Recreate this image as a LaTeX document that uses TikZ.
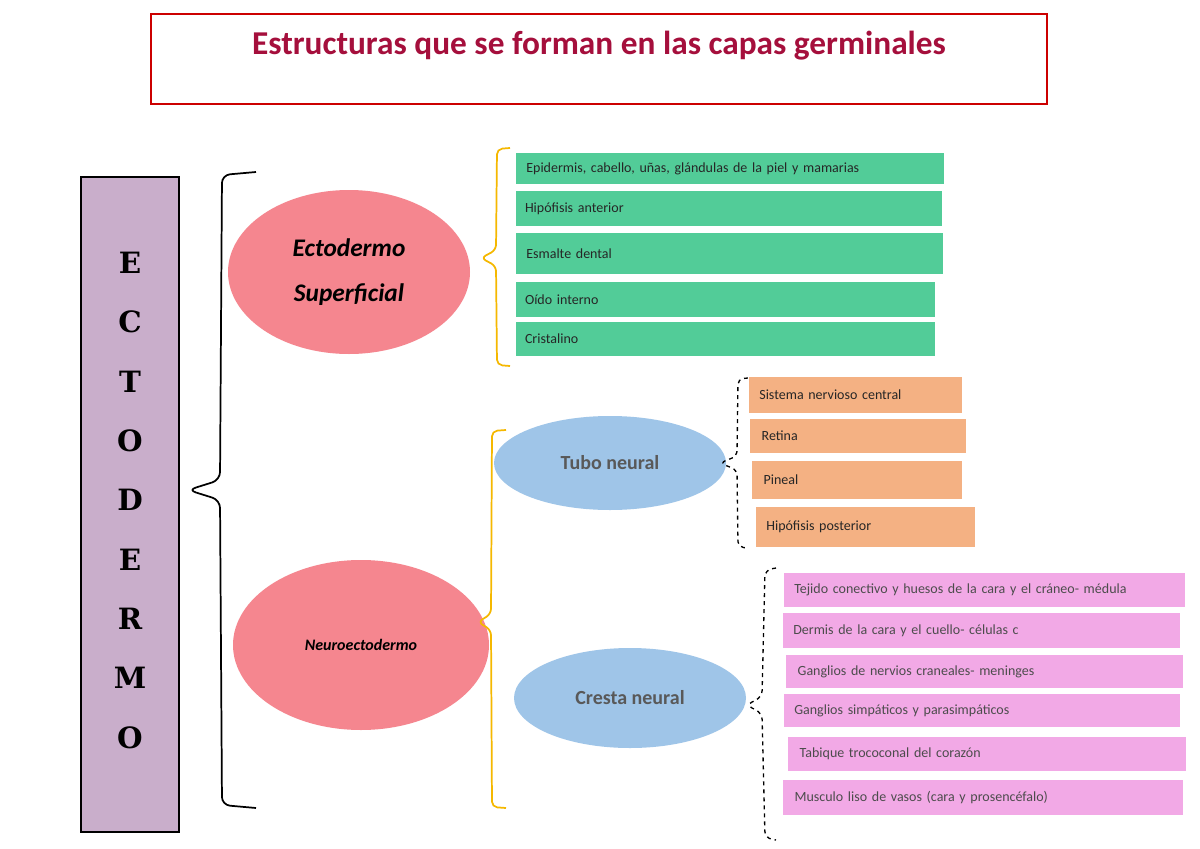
\documentclass[tikz,border=0pt]{standalone}
\usepackage{fontspec}
\setmainfont{Carlito}
\newfontfamily\heavy{DejaVu Serif}
\begin{document}
\begin{tikzpicture}[x=0.75pt,y=-0.75pt,
  gbox/.style={fill=gcol,draw=white,line width=1pt,anchor=north west,inner sep=0pt,font=\fontsize{10.5}{12}\selectfont,text=black!85},
  obox/.style={gbox,fill=ocol},
  pbox/.style={gbox,fill=pcol,text=black!70},
  brc/.style={line width=1.3pt,rounded corners=6pt}]
\definecolor{gcol}{HTML}{52CC98}
\definecolor{ocol}{HTML}{F4B183}
\definecolor{pcol}{HTML}{F2A9E6}
\definecolor{ecol}{HTML}{F5868F}
\definecolor{bcol}{HTML}{9FC5E8}
\definecolor{ycol}{HTML}{F5B800}
\definecolor{tcol}{HTML}{A50F3C}
\definecolor{vcol}{HTML}{C9AECB}
\useasboundingbox (0,0) rectangle (1200,849);
\fill[white] (0,0) rectangle (1200,849);
% title
\draw[draw=red!80!black,line width=1pt] (151,14) rectangle (1047,104);
\node[font=\bfseries\fontsize{25}{30}\selectfont,text=tcol] (title) at (599,46) {Estructuras que se forman en las capas germinales};
% ectodermo column
\draw[fill=vcol,line width=1pt] (81,177) rectangle (179,832);
\foreach \l [count=\i from 0] in {E,C,T,O,D,E,R,M,O}
  \node[font=\heavy\bfseries\fontsize{22}{24}\selectfont] (l\i) at (130,263+59.3*\i) {\l};
% big brace
\draw[brc] (256,172) -- (222,175) -- (220,480) -- (188,490) -- (220,500) -- (222,805) -- (256,808);
% ellipses
\fill[ecol] (349,272) ellipse (121 and 82);
\node[font=\bfseries\itshape\fontsize{19}{30}\selectfont,align=center] (es) at (349,272) {Ectodermo\\[4pt]Superficial};
\fill[ecol] (361,645) ellipse (128 and 85);
\node[font=\bfseries\itshape\fontsize{12}{14}\selectfont] (ne) at (361,645) {Neuroectodermo};
\fill[bcol] (610,463) ellipse (116 and 47);
\node[font=\bfseries\fontsize{15}{18}\selectfont,text=black!65] (tn) at (610,463) {Tubo neural};
\fill[bcol] (630,698) ellipse (116 and 50);
\node[font=\bfseries\fontsize{15}{18}\selectfont,text=black!65] (cn) at (630,698) {Cresta neural};
% yellow braces
\draw[brc,draw=ycol,rounded corners=4pt] (510,148) -- (497,149) -- (496,250) -- (481,258) -- (496,266) -- (497,365) -- (510,366);
\draw[brc,draw=ycol,rounded corners=4pt] (506,430) -- (492,431) -- (491,614) -- (478,622) -- (491,630) -- (492,807) -- (506,808);
% dashed braces
\draw[line width=1pt,dashed,rounded corners=4pt] (748,378) -- (738,379) -- (737,456) -- (720,463) -- (737,470) -- (738,547) -- (748,548);
\draw[line width=1pt,dashed,rounded corners=5pt] (776,568) -- (765,570) -- (762,697) -- (746,705) -- (762,713) -- (765,838) -- (776,840);
% green boxes
\node[gbox,text width=322pt,minimum height=24pt] (g1) at (515,152) {\hspace*{8pt}Epidermis, cabello, uñas, glándulas de la piel y mamarias};
\node[gbox,text width=320pt,minimum height=27pt] (g2) at (515,190) {\hspace*{7pt}Hipófisis anterior};
\node[gbox,text width=321pt,minimum height=31.5pt] (g3) at (515,232) {\hspace*{8pt}Esmalte dental};
\node[gbox,text width=315pt,minimum height=27pt] (g4) at (515,281) {\hspace*{7pt}Oído interno};
\node[gbox,text width=315pt,minimum height=26pt] (g5) at (515,321) {\hspace*{7pt}Cristalino};
% orange boxes
\node[obox,text width=160.5pt,minimum height=27.75pt] (o1) at (748,376) {\hspace*{8pt}Sistema nervioso central};
\node[obox,text width=162.75pt,minimum height=26.25pt] (o2) at (749,418) {\hspace*{9pt}Retina};
\node[obox,text width=158.25pt,minimum height=29.25pt] (o3) at (751,460) {\hspace*{9pt}Pineal};
\node[obox,text width=165pt,minimum height=30.75pt] (o4) at (755,506) {\hspace*{8pt}Hipófisis posterior};
% pink boxes
\node[pbox,text width=301.5pt,minimum height=26.25pt] (p1) at (783,572) {\hspace*{8pt}Tejido conectivo y huesos de la cara y el cráneo- médula};
\node[pbox,text width=298.5pt,minimum height=27pt] (p2) at (782,612) {\hspace*{8pt}Dermis de la cara y el cuello- células c};
\node[pbox,text width=298.5pt,minimum height=25.5pt] (p3) at (785,654) {\hspace*{9pt}Ganglios de nervios craneales- meninges};
\node[pbox,text width=297.75pt,minimum height=25.5pt] (p4) at (783,693) {\hspace*{8pt}Ganglios simpáticos y parasimpáticos};
\node[pbox,text width=299.25pt,minimum height=26.25pt] (p5) at (787,736) {\hspace*{9pt}Tabique trococonal del corazón};
\node[pbox,text width=300.75pt,minimum height=27pt] (p6) at (782,779) {\hspace*{9pt}Musculo liso de vasos (cara y prosencéfalo)};
\end{tikzpicture}
\end{document}
